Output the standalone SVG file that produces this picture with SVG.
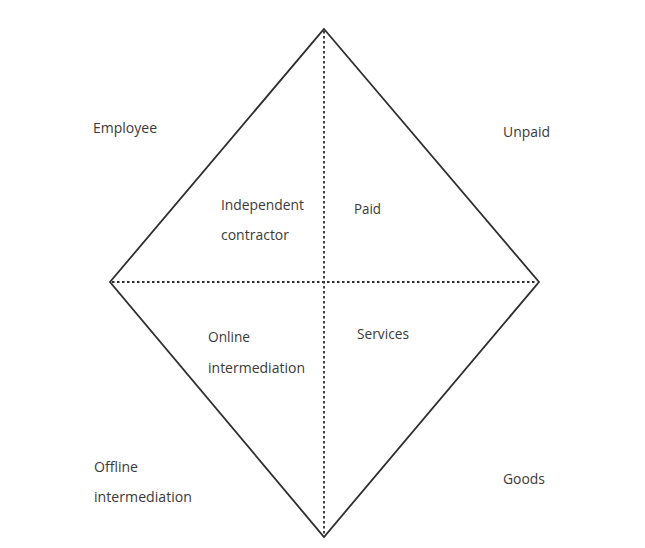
<svg xmlns="http://www.w3.org/2000/svg" width="645" height="548" viewBox="0 0 645 548">
<style>
.lbl{font-family:"Open Sans","Liberation Sans",sans-serif;font-size:15px;fill:#3a3a3a}
.edge{fill:none;stroke:#2e2e2e;stroke-width:1.8;stroke-linejoin:miter}
.axis{fill:none;stroke:#2e2e2e;stroke-width:1.8;stroke-dasharray:2.5 2.5}
</style>
<rect width="645" height="548" fill="#fff"/>
<g id="connectors">
<polygon class="edge" points="324,29 539,282 324,537 110,282"/>
<line class="axis" x1="324" y1="31" x2="324" y2="535"/>
<line class="axis" x1="112" y1="282" x2="537" y2="282"/>
</g>
<g id="employee"><text class="lbl" x="93" y="133" textLength="64" lengthAdjust="spacingAndGlyphs">Employee</text></g>
<g id="unpaid"><text class="lbl" x="503" y="137" textLength="47" lengthAdjust="spacingAndGlyphs">Unpaid</text></g>
<g id="independent-contractor">
<text class="lbl" x="221" y="210" textLength="83" lengthAdjust="spacingAndGlyphs">Independent</text>
<text class="lbl" x="221" y="240" textLength="68" lengthAdjust="spacingAndGlyphs">contractor</text>
</g>
<g id="paid"><text class="lbl" x="354" y="214" textLength="27" lengthAdjust="spacingAndGlyphs">Paid</text></g>
<g id="online-intermediation">
<text class="lbl" x="208" y="342" textLength="42" lengthAdjust="spacingAndGlyphs">Online</text>
<text class="lbl" x="208" y="373" textLength="97" lengthAdjust="spacingAndGlyphs">intermediation</text>
</g>
<g id="services"><text class="lbl" x="357" y="339" textLength="52" lengthAdjust="spacingAndGlyphs">Services</text></g>
<g id="offline-intermediation">
<text class="lbl" x="94" y="472" textLength="44" lengthAdjust="spacingAndGlyphs">Offline</text>
<text class="lbl" x="94" y="502" textLength="98" lengthAdjust="spacingAndGlyphs">intermediation</text>
</g>
<g id="goods"><text class="lbl" x="503" y="484" textLength="42" lengthAdjust="spacingAndGlyphs">Goods</text></g>
</svg>
